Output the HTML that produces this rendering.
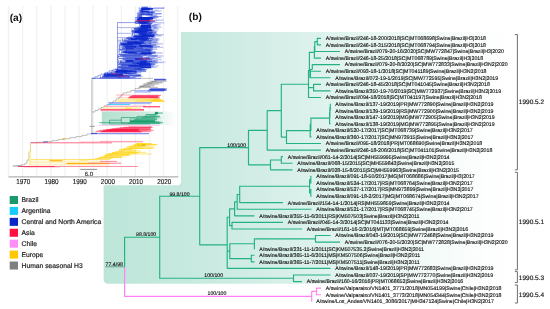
<!DOCTYPE html>
<html lang="en"><head><meta charset="utf-8"><title>Phylogeny figure</title>
<style>html,body{margin:0;padding:0;background:#fff}svg{display:block}</style></head>
<body>
<svg width="550" height="309" viewBox="0 0 550 309" font-family="Liberation Sans, sans-serif" text-rendering="geometricPrecision">
<defs>
<linearGradient id="gbox" gradientUnits="userSpaceOnUse" x1="103" y1="0" x2="515" y2="0">
<stop offset="0" stop-color="#bce5d8"/><stop offset="0.235" stop-color="#c8eae0"/><stop offset="0.333" stop-color="#cfece4"/><stop offset="0.5" stop-color="#dcf1eb"/><stop offset="0.8" stop-color="#f4fbf9"/><stop offset="0.93" stop-color="#fdfefe"/><stop offset="1" stop-color="#ffffff"/>
</linearGradient>
<linearGradient id="gsm" gradientUnits="userSpaceOnUse" x1="102" y1="0" x2="176" y2="0">
<stop offset="0" stop-color="#b4dfcf"/><stop offset="0.6" stop-color="#cdeadf"/><stop offset="1" stop-color="#ffffff"/>
</linearGradient>
<filter id="soft" x="-2%" y="-2%" width="104%" height="104%"><feGaussianBlur stdDeviation="0.2"/></filter>
</defs>
<rect width="550" height="309" fill="#fff"/>
<path d="M180.9,32 L520,32 L520,283.8 L108.6,283.8 Q103.6,283.8 103.6,278.8 L103.6,185.3 L177,185.3 Q180.9,185.3 180.9,181.4 L180.9,32 Z" fill="url(#gbox)"/>
<g stroke="#f2f2f2" stroke-width="1.3">
<line x1="8.5" y1="6" x2="8.5" y2="176.5"/>
<line x1="22.6" y1="6" x2="22.6" y2="176.5"/>
<line x1="36.7" y1="6" x2="36.7" y2="176.5"/>
<line x1="50.8" y1="6" x2="50.8" y2="176.5"/>
<line x1="64.9" y1="6" x2="64.9" y2="176.5"/>
<line x1="79.0" y1="6" x2="79.0" y2="176.5"/>
<line x1="93.1" y1="6" x2="93.1" y2="176.5"/>
<line x1="107.2" y1="6" x2="107.2" y2="176.5"/>
<line x1="121.3" y1="6" x2="121.3" y2="176.5"/>
<line x1="135.4" y1="6" x2="135.4" y2="176.5"/>
<line x1="149.5" y1="6" x2="149.5" y2="176.5"/>
<line x1="163.6" y1="6" x2="163.6" y2="176.5"/>
<line x1="177.7" y1="6" x2="177.7" y2="176.5"/>
</g>
<rect x="101.8" y="111.5" width="74" height="13.5" fill="url(#gsm)"/>
<g fill="none" stroke-linecap="butt">
<path d="M141.3,7.20H147.7" stroke="#0c28cc" stroke-width="0.62" opacity="0.99"/>
<path d="M141.4,7.80H148.0" stroke="#0c28cc" stroke-width="0.62" opacity="0.93"/>
<path d="M141.9,8.42H150.5" stroke="#0c28cc" stroke-width="0.62" opacity="0.93"/>
<path d="M139.6,8.97H150.7" stroke="#0c28cc" stroke-width="0.62" opacity="0.98"/>
<path d="M149.3,9.44H152.6" stroke="#0c28cc" stroke-width="0.62" opacity="0.97"/>
<path d="M139.1,10.71H143.3" stroke="#0c28cc" stroke-width="0.62" opacity="0.94"/>
<path d="M140.4,11.17H146.3" stroke="#0c28cc" stroke-width="0.62" opacity="0.99"/>
<path d="M141.2,11.80H147.0" stroke="#0c28cc" stroke-width="0.62" opacity="0.97"/>
<path d="M138.4,12.40H153.0" stroke="#0c28cc" stroke-width="0.62" opacity="1.00"/>
<path d="M140.6,13.12H144.8" stroke="#0c28cc" stroke-width="0.62" opacity="0.94"/>
<path d="M137.6,13.67H150.2" stroke="#0c28cc" stroke-width="0.62" opacity="0.95"/>
<path d="M138.5,14.40H152.5" stroke="#0c28cc" stroke-width="0.62" opacity="0.99"/>
<path d="M137.9,14.85H151.9" stroke="#0c28cc" stroke-width="0.62" opacity="0.96"/>
<path d="M138.4,15.62H141.9" stroke="#0c28cc" stroke-width="0.62" opacity="0.97"/>
<path d="M137.9,16.33H142.0" stroke="#0c28cc" stroke-width="0.62" opacity="0.95"/>
<path d="M139.2,17.10H142.4" stroke="#0c28cc" stroke-width="0.62" opacity="0.94"/>
<path d="M135.7,17.58H150.6" stroke="#0c28cc" stroke-width="0.62" opacity="0.93"/>
<path d="M136.9,18.21H143.3" stroke="#0c28cc" stroke-width="0.62" opacity="0.98"/>
<path d="M138.0,18.71H142.4" stroke="#0c28cc" stroke-width="0.62" opacity="0.95"/>
<path d="M136.1,19.23H152.7" stroke="#0c28cc" stroke-width="0.62" opacity="0.98"/>
<path d="M140.7,19.78H143.5" stroke="#0c28cc" stroke-width="0.62" opacity="0.95"/>
<path d="M137.7,20.51H142.2" stroke="#0c28cc" stroke-width="0.62" opacity="1.00"/>
<path d="M135.9,21.03H150.3" stroke="#0c28cc" stroke-width="0.62" opacity="0.95"/>
<path d="M135.2,21.58H142.1" stroke="#0c28cc" stroke-width="0.62" opacity="0.97"/>
<path d="M137.3,22.11H145.5" stroke="#0c28cc" stroke-width="0.62" opacity="0.96"/>
<path d="M136.7,22.88H147.9" stroke="#0c28cc" stroke-width="0.62" opacity="0.99"/>
<path d="M135.4,23.39H151.9" stroke="#0c28cc" stroke-width="0.62" opacity="0.99"/>
<path d="M141.2,23.92H149.9" stroke="#0c28cc" stroke-width="0.62" opacity="1.00"/>
<path d="M147.7,24.43H151.6" stroke="#0c28cc" stroke-width="0.62" opacity="0.97"/>
<path d="M139.7,25.79H149.5" stroke="#0c28cc" stroke-width="0.62" opacity="0.94"/>
<path d="M140.7,26.51H144.5" stroke="#0c28cc" stroke-width="0.62" opacity="0.93"/>
<path d="M137.4,27.20H143.7" stroke="#0c28cc" stroke-width="0.62" opacity="0.96"/>
<path d="M136.7,27.93H144.4" stroke="#0c28cc" stroke-width="0.62" opacity="0.99"/>
<path d="M133.7,28.45H144.2" stroke="#0c28cc" stroke-width="0.62" opacity="0.96"/>
<path d="M133.8,28.92H145.4" stroke="#0c28cc" stroke-width="0.62" opacity="0.97"/>
<path d="M134.0,29.41H151.7" stroke="#0c28cc" stroke-width="0.62" opacity="1.00"/>
<path d="M135.3,30.08H148.0" stroke="#0c28cc" stroke-width="0.62" opacity="0.93"/>
<path d="M132.0,30.54H151.9" stroke="#0c28cc" stroke-width="0.62" opacity="0.98"/>
<path d="M131.4,31.31H148.6" stroke="#0c28cc" stroke-width="0.62" opacity="0.96"/>
<path d="M131.8,32.00H153.0" stroke="#0c28cc" stroke-width="0.62" opacity="0.93"/>
<path d="M133.6,32.63H151.8" stroke="#0c28cc" stroke-width="0.62" opacity="0.98"/>
<path d="M136.5,33.31H152.0" stroke="#0c28cc" stroke-width="0.62" opacity="0.95"/>
<path d="M140.1,33.99H151.5" stroke="#0c28cc" stroke-width="0.62" opacity="0.95"/>
<path d="M138.0,34.70H147.9" stroke="#0c28cc" stroke-width="0.62" opacity="0.97"/>
<path d="M134.2,35.27H148.3" stroke="#0c28cc" stroke-width="0.62" opacity="0.93"/>
<path d="M143.4,35.94H151.6" stroke="#0c28cc" stroke-width="0.62" opacity="0.98"/>
<path d="M133.2,36.51H148.0" stroke="#0c28cc" stroke-width="0.62" opacity="0.96"/>
<path d="M128.3,37.24H150.0" stroke="#0c28cc" stroke-width="0.62" opacity="0.92"/>
<path d="M127.1,37.89H143.8" stroke="#0c28cc" stroke-width="0.62" opacity="0.98"/>
<path d="M126.4,38.50H152.0" stroke="#0c28cc" stroke-width="0.62" opacity="0.94"/>
<path d="M124.0,38.96H149.1" stroke="#0c28cc" stroke-width="0.62" opacity="0.94"/>
<path d="M128.0,39.46H148.9" stroke="#0c28cc" stroke-width="0.62" opacity="0.96"/>
<path d="M121.6,40.21H149.0" stroke="#0c28cc" stroke-width="0.62" opacity="0.94"/>
<path d="M124.1,40.80H152.0" stroke="#0c28cc" stroke-width="0.62" opacity="0.99"/>
<path d="M122.1,41.38H144.8" stroke="#0c28cc" stroke-width="0.62" opacity="0.93"/>
<path d="M124.4,41.99H151.2" stroke="#0c28cc" stroke-width="0.62" opacity="0.98"/>
<path d="M120.5,42.75H143.0" stroke="#0c28cc" stroke-width="0.62" opacity="0.96"/>
<path d="M120.3,43.29H146.0" stroke="#0c28cc" stroke-width="0.62" opacity="0.97"/>
<path d="M120.5,43.91H151.1" stroke="#0c28cc" stroke-width="0.62" opacity="1.00"/>
<path d="M119.7,44.51H141.4" stroke="#0c28cc" stroke-width="0.62" opacity="0.99"/>
<path d="M122.5,44.97H147.8" stroke="#0c28cc" stroke-width="0.62" opacity="0.94"/>
<path d="M119.4,45.68H142.6" stroke="#0c28cc" stroke-width="0.62" opacity="0.96"/>
<path d="M123.7,46.14H143.8" stroke="#0c28cc" stroke-width="0.62" opacity="0.93"/>
<path d="M121.7,46.60H146.4" stroke="#0c28cc" stroke-width="0.62" opacity="0.97"/>
<path d="M123.3,47.27H152.5" stroke="#0c28cc" stroke-width="0.62" opacity="0.97"/>
<path d="M120.7,47.79H143.1" stroke="#0c28cc" stroke-width="0.62" opacity="0.92"/>
<path d="M122.2,48.39H143.1" stroke="#0c28cc" stroke-width="0.62" opacity="0.94"/>
<path d="M121.9,48.96H147.2" stroke="#0c28cc" stroke-width="0.62" opacity="0.97"/>
<path d="M120.1,49.66H150.5" stroke="#0c28cc" stroke-width="0.62" opacity="0.99"/>
<path d="M125.5,50.13H149.7" stroke="#0c28cc" stroke-width="0.62" opacity="0.93"/>
<path d="M121.2,50.73H151.9" stroke="#0c28cc" stroke-width="0.62" opacity="0.95"/>
<path d="M123.9,51.37H150.6" stroke="#0c28cc" stroke-width="0.62" opacity="1.00"/>
<path d="M121.2,51.98H143.5" stroke="#0c28cc" stroke-width="0.62" opacity="0.98"/>
<path d="M121.1,52.70H149.6" stroke="#0c28cc" stroke-width="0.62" opacity="0.94"/>
<path d="M128.2,53.44H152.7" stroke="#0c28cc" stroke-width="0.62" opacity="0.96"/>
<path d="M119.3,54.15H151.9" stroke="#0c28cc" stroke-width="0.62" opacity="0.99"/>
<path d="M118.5,54.72H146.3" stroke="#0c28cc" stroke-width="0.62" opacity="0.96"/>
<path d="M119.9,55.42H141.3" stroke="#0c28cc" stroke-width="0.62" opacity="0.98"/>
<path d="M122.2,55.89H143.1" stroke="#0c28cc" stroke-width="0.62" opacity="0.95"/>
<path d="M118.5,56.60H142.8" stroke="#0c28cc" stroke-width="0.62" opacity="0.96"/>
<path d="M122.7,57.29H149.3" stroke="#0c28cc" stroke-width="0.62" opacity="1.00"/>
<path d="M125.5,57.90H142.0" stroke="#0c28cc" stroke-width="0.62" opacity="0.94"/>
<path d="M118.9,58.53H149.7" stroke="#0c28cc" stroke-width="0.62" opacity="0.97"/>
<path d="M122.6,59.15H147.7" stroke="#0c28cc" stroke-width="0.62" opacity="0.94"/>
<path d="M122.6,59.73H151.8" stroke="#0c28cc" stroke-width="0.62" opacity="0.94"/>
<path d="M126.6,60.46H147.3" stroke="#0c28cc" stroke-width="0.62" opacity="0.97"/>
<path d="M119.8,60.97H147.0" stroke="#0c28cc" stroke-width="0.62" opacity="0.97"/>
<path d="M126.6,61.43H147.2" stroke="#0c28cc" stroke-width="0.62" opacity="0.95"/>
<path d="M119.9,62.15H146.9" stroke="#0c28cc" stroke-width="0.62" opacity="0.98"/>
<path d="M119.8,62.62H146.0" stroke="#0c28cc" stroke-width="0.62" opacity="1.00"/>
<path d="M118.6,63.37H146.7" stroke="#0c28cc" stroke-width="0.62" opacity="0.93"/>
<path d="M122.0,63.97H151.8" stroke="#0c28cc" stroke-width="0.62" opacity="0.96"/>
<path d="M118.3,64.52H148.4" stroke="#0c28cc" stroke-width="0.62" opacity="0.99"/>
<path d="M121.5,65.01H141.3" stroke="#0c28cc" stroke-width="0.62" opacity="0.94"/>
<path d="M120.6,65.54H144.9" stroke="#0c28cc" stroke-width="0.62" opacity="0.95"/>
<path d="M118.0,66.19H149.8" stroke="#0c28cc" stroke-width="0.62" opacity="0.93"/>
<path d="M118.4,66.81H143.4" stroke="#0c28cc" stroke-width="0.62" opacity="0.96"/>
<path d="M118.8,67.41H146.0" stroke="#0c28cc" stroke-width="0.62" opacity="0.96"/>
<path d="M118.2,67.91H148.6" stroke="#0c28cc" stroke-width="0.62" opacity="0.97"/>
<path d="M121.4,68.53H141.0" stroke="#0c28cc" stroke-width="0.62" opacity="0.99"/>
<path d="M119.1,69.06H144.6" stroke="#0c28cc" stroke-width="0.62" opacity="0.99"/>
<path d="M115.6,69.61H146.6" stroke="#0c28cc" stroke-width="0.62" opacity="0.94"/>
<path d="M118.7,70.39H132.4" stroke="#0c28cc" stroke-width="0.62" opacity="0.94"/>
<path d="M112.6,71.08H131.7" stroke="#0c28cc" stroke-width="0.62" opacity="0.99"/>
<path d="M114.6,71.67H132.3" stroke="#0c28cc" stroke-width="0.62" opacity="0.95"/>
<path d="M109.2,72.35H124.2" stroke="#0c28cc" stroke-width="0.62" opacity="0.97"/>
<path d="M115.9,73.10H122.4" stroke="#0c28cc" stroke-width="0.62" opacity="0.96"/>
<path d="M107.2,73.80H134.4" stroke="#0c28cc" stroke-width="0.62" opacity="0.94"/>
<path d="M104.9,74.27H120.8" stroke="#0c28cc" stroke-width="0.62" opacity="0.96"/>
<path d="M105.8,74.89H123.1" stroke="#0c28cc" stroke-width="0.62" opacity="0.93"/>
<path d="M107.5,75.41H140.8" stroke="#0c28cc" stroke-width="0.62" opacity="0.99"/>
<path d="M102.3,75.89H140.0" stroke="#0c28cc" stroke-width="0.62" opacity="0.96"/>
<path d="M102.1,76.59H129.8" stroke="#0c28cc" stroke-width="0.62" opacity="0.96"/>
<path d="M102.5,77.19H120.3" stroke="#0c28cc" stroke-width="0.62" opacity="0.98"/>
<path d="M99.6,77.91H129.5" stroke="#0c28cc" stroke-width="0.62" opacity="0.98"/>
<path d="M143.7,7.30H151.6" stroke="#0c28cc" stroke-width="0.45" opacity="0.63"/>
<path d="M153.3,7.86H164.5" stroke="#0c28cc" stroke-width="0.45" opacity="0.78"/>
<path d="M151.3,8.46H164.2" stroke="#0c28cc" stroke-width="0.45" opacity="0.66"/>
<path d="M140.3,9.04H152.6" stroke="#0c28cc" stroke-width="0.45" opacity="0.87"/>
<path d="M145.4,9.49H150.6" stroke="#0c28cc" stroke-width="0.45" opacity="0.91"/>
<path d="M150.9,10.09H158.5" stroke="#0c28cc" stroke-width="0.45" opacity="0.68"/>
<path d="M140.0,10.54H150.6" stroke="#0c28cc" stroke-width="0.45" opacity="0.85"/>
<path d="M154.7,11.08H161.5" stroke="#0c28cc" stroke-width="0.45" opacity="0.76"/>
<path d="M148.2,11.56H155.2" stroke="#0c28cc" stroke-width="0.45" opacity="0.92"/>
<path d="M142.4,12.04H154.1" stroke="#0c28cc" stroke-width="0.45" opacity="0.88"/>
<path d="M146.1,12.41H154.8" stroke="#0c28cc" stroke-width="0.45" opacity="0.94"/>
<path d="M145.7,12.98H154.8" stroke="#0c28cc" stroke-width="0.45" opacity="0.78"/>
<path d="M146.7,13.48H161.9" stroke="#0c28cc" stroke-width="0.45" opacity="0.83"/>
<path d="M155.4,14.01H161.3" stroke="#0c28cc" stroke-width="0.45" opacity="0.86"/>
<path d="M141.1,14.46H156.5" stroke="#0c28cc" stroke-width="0.45" opacity="0.63"/>
<path d="M148.9,15.04H153.4" stroke="#0c28cc" stroke-width="0.45" opacity="0.63"/>
<path d="M146.0,15.59H157.3" stroke="#0c28cc" stroke-width="0.45" opacity="0.64"/>
<path d="M150.6,16.10H156.5" stroke="#0c28cc" stroke-width="0.45" opacity="0.73"/>
<path d="M152.7,16.48H161.8" stroke="#0c28cc" stroke-width="0.45" opacity="0.87"/>
<path d="M148.2,16.96H158.0" stroke="#0c28cc" stroke-width="0.45" opacity="0.78"/>
<path d="M146.3,17.39H158.5" stroke="#0c28cc" stroke-width="0.45" opacity="0.80"/>
<path d="M145.0,17.89H155.1" stroke="#0c28cc" stroke-width="0.45" opacity="0.83"/>
<path d="M145.9,18.29H155.0" stroke="#0c28cc" stroke-width="0.45" opacity="0.82"/>
<path d="M150.8,18.66H156.8" stroke="#0c28cc" stroke-width="0.45" opacity="0.68"/>
<path d="M139.9,19.26H152.8" stroke="#0c28cc" stroke-width="0.45" opacity="0.89"/>
<path d="M141.6,19.63H151.0" stroke="#0c28cc" stroke-width="0.45" opacity="0.86"/>
<path d="M155.6,20.08H163.5" stroke="#0c28cc" stroke-width="0.45" opacity="0.79"/>
<path d="M147.8,20.61H157.4" stroke="#0c28cc" stroke-width="0.45" opacity="0.71"/>
<path d="M147.0,21.10H154.5" stroke="#0c28cc" stroke-width="0.45" opacity="0.87"/>
<path d="M145.4,21.47H155.3" stroke="#0c28cc" stroke-width="0.45" opacity="0.87"/>
<path d="M143.4,21.90H151.8" stroke="#0c28cc" stroke-width="0.45" opacity="0.64"/>
<path d="M148.1,22.43H157.3" stroke="#0c28cc" stroke-width="0.45" opacity="0.88"/>
<path d="M157.4,22.85H164.4" stroke="#0c28cc" stroke-width="0.45" opacity="0.73"/>
<path d="M140.0,23.29H152.9" stroke="#0c28cc" stroke-width="0.45" opacity="0.73"/>
<path d="M141.8,23.74H151.2" stroke="#0c28cc" stroke-width="0.45" opacity="0.91"/>
<path d="M153.3,24.16H160.9" stroke="#0c28cc" stroke-width="0.45" opacity="0.61"/>
<path d="M153.7,24.72H158.7" stroke="#0c28cc" stroke-width="0.45" opacity="0.63"/>
<path d="M152.0,25.26H157.2" stroke="#0c28cc" stroke-width="0.45" opacity="0.89"/>
<path d="M140.7,25.71H153.9" stroke="#0c28cc" stroke-width="0.45" opacity="0.74"/>
<path d="M146.8,26.15H160.4" stroke="#0c28cc" stroke-width="0.45" opacity="0.63"/>
<path d="M141.8,26.65H156.1" stroke="#0c28cc" stroke-width="0.45" opacity="0.88"/>
<path d="M153.4,27.21H161.8" stroke="#0c28cc" stroke-width="0.45" opacity="0.60"/>
<path d="M141.5,27.59H157.4" stroke="#0c28cc" stroke-width="0.45" opacity="0.73"/>
<path d="M142.0,27.98H151.6" stroke="#0c28cc" stroke-width="0.45" opacity="0.86"/>
<path d="M153.2,28.40H157.4" stroke="#0c28cc" stroke-width="0.45" opacity="0.77"/>
<path d="M152.4,28.95H159.2" stroke="#0c28cc" stroke-width="0.45" opacity="0.85"/>
<path d="M136.9,29.45H151.8" stroke="#0c28cc" stroke-width="0.45" opacity="0.93"/>
<path d="M139.8,29.96H154.4" stroke="#0c28cc" stroke-width="0.45" opacity="0.92"/>
<path d="M145.6,30.40H154.4" stroke="#0c28cc" stroke-width="0.45" opacity="0.68"/>
<path d="M144.4,30.78H157.8" stroke="#0c28cc" stroke-width="0.45" opacity="0.62"/>
<path d="M143.4,31.36H157.0" stroke="#0c28cc" stroke-width="0.45" opacity="0.85"/>
<path d="M136.4,31.86H151.3" stroke="#0c28cc" stroke-width="0.45" opacity="0.88"/>
<path d="M150.1,32.24H155.9" stroke="#0c28cc" stroke-width="0.45" opacity="0.87"/>
<path d="M148.4,32.59H156.6" stroke="#0c28cc" stroke-width="0.45" opacity="0.82"/>
<path d="M145.7,33.08H156.7" stroke="#0c28cc" stroke-width="0.45" opacity="0.90"/>
<path d="M142.9,33.50H156.3" stroke="#0c28cc" stroke-width="0.45" opacity="0.75"/>
<path d="M146.2,33.86H154.0" stroke="#0c28cc" stroke-width="0.45" opacity="0.74"/>
<path d="M145.7,34.35H158.0" stroke="#0c28cc" stroke-width="0.45" opacity="0.64"/>
<path d="M154.1,34.80H163.5" stroke="#0c28cc" stroke-width="0.45" opacity="0.90"/>
<path d="M139.5,35.33H153.8" stroke="#0c28cc" stroke-width="0.45" opacity="0.90"/>
<path d="M148.7,35.86H161.6" stroke="#0c28cc" stroke-width="0.45" opacity="0.93"/>
<path d="M137.9,36.40H150.7" stroke="#0c28cc" stroke-width="0.45" opacity="0.72"/>
<path d="M150.7,36.98H155.8" stroke="#0c28cc" stroke-width="0.45" opacity="0.65"/>
<path d="M151.2,37.36H155.7" stroke="#0c28cc" stroke-width="0.45" opacity="0.76"/>
<path d="M141.4,37.88H150.3" stroke="#0c28cc" stroke-width="0.45" opacity="0.63"/>
<path d="M139.6,38.46H153.4" stroke="#0c28cc" stroke-width="0.45" opacity="0.74"/>
<path d="M151.8,38.89H159.6" stroke="#0c28cc" stroke-width="0.45" opacity="0.88"/>
<path d="M149.8,39.31H157.9" stroke="#0c28cc" stroke-width="0.45" opacity="0.83"/>
<path d="M141.7,39.68H153.0" stroke="#0c28cc" stroke-width="0.45" opacity="0.66"/>
<path d="M149.0,40.22H159.2" stroke="#0c28cc" stroke-width="0.45" opacity="0.80"/>
<path d="M146.7,40.62H157.5" stroke="#0c28cc" stroke-width="0.45" opacity="0.61"/>
<path d="M138.7,41.14H151.1" stroke="#0c28cc" stroke-width="0.45" opacity="0.72"/>
<path d="M151.5,41.72H157.1" stroke="#0c28cc" stroke-width="0.45" opacity="0.92"/>
<path d="M142.5,42.21H158.4" stroke="#0c28cc" stroke-width="0.45" opacity="0.89"/>
<path d="M149.7,42.71H156.6" stroke="#0c28cc" stroke-width="0.45" opacity="0.80"/>
<path d="M142.6,43.26H151.5" stroke="#0c28cc" stroke-width="0.45" opacity="0.87"/>
<path d="M147.9,43.85H162.8" stroke="#0c28cc" stroke-width="0.45" opacity="0.82"/>
<path d="M150.4,44.36H156.1" stroke="#0c28cc" stroke-width="0.45" opacity="0.74"/>
<path d="M143.2,44.85H158.4" stroke="#0c28cc" stroke-width="0.45" opacity="0.62"/>
<path d="M145.1,45.40H156.3" stroke="#0c28cc" stroke-width="0.45" opacity="0.76"/>
<path d="M145.7,45.85H155.5" stroke="#0c28cc" stroke-width="0.45" opacity="0.95"/>
<path d="M154.5,46.41H159.9" stroke="#0c28cc" stroke-width="0.45" opacity="0.93"/>
<path d="M146.6,46.84H154.2" stroke="#0c28cc" stroke-width="0.45" opacity="0.82"/>
<path d="M148.6,47.30H163.1" stroke="#0c28cc" stroke-width="0.45" opacity="0.69"/>
<path d="M144.6,47.86H157.0" stroke="#0c28cc" stroke-width="0.45" opacity="0.78"/>
<path d="M136.5,48.27H152.5" stroke="#0c28cc" stroke-width="0.45" opacity="0.86"/>
<path d="M146.3,48.84H153.0" stroke="#0c28cc" stroke-width="0.45" opacity="0.86"/>
<path d="M142.6,49.33H157.2" stroke="#0c28cc" stroke-width="0.45" opacity="0.80"/>
<path d="M147.6,49.79H152.4" stroke="#0c28cc" stroke-width="0.45" opacity="0.91"/>
<path d="M145.5,50.35H153.2" stroke="#0c28cc" stroke-width="0.45" opacity="0.76"/>
<path d="M136.6,50.77H151.1" stroke="#0c28cc" stroke-width="0.45" opacity="0.67"/>
<path d="M135.7,51.34H150.5" stroke="#0c28cc" stroke-width="0.45" opacity="0.61"/>
<path d="M149.3,51.85H155.6" stroke="#0c28cc" stroke-width="0.45" opacity="0.91"/>
<path d="M141.4,52.21H155.8" stroke="#0c28cc" stroke-width="0.45" opacity="0.85"/>
<path d="M149.5,52.59H155.6" stroke="#0c28cc" stroke-width="0.45" opacity="0.90"/>
<path d="M150.5,52.97H162.5" stroke="#0c28cc" stroke-width="0.45" opacity="0.88"/>
<path d="M139.6,53.42H155.3" stroke="#0c28cc" stroke-width="0.45" opacity="0.91"/>
<path d="M135.3,53.81H151.1" stroke="#0c28cc" stroke-width="0.45" opacity="0.75"/>
<path d="M139.9,54.30H150.4" stroke="#0c28cc" stroke-width="0.45" opacity="0.75"/>
<path d="M144.0,54.79H151.3" stroke="#0c28cc" stroke-width="0.45" opacity="0.79"/>
<path d="M142.9,55.18H157.9" stroke="#0c28cc" stroke-width="0.45" opacity="0.80"/>
<path d="M141.7,55.53H156.6" stroke="#0c28cc" stroke-width="0.45" opacity="0.71"/>
<path d="M151.2,56.01H163.4" stroke="#0c28cc" stroke-width="0.45" opacity="0.78"/>
<path d="M148.3,56.59H157.5" stroke="#0c28cc" stroke-width="0.45" opacity="0.83"/>
<path d="M145.9,57.08H155.7" stroke="#0c28cc" stroke-width="0.45" opacity="0.68"/>
<path d="M156.7,57.58H161.4" stroke="#0c28cc" stroke-width="0.45" opacity="0.76"/>
<path d="M144.8,58.15H154.9" stroke="#0c28cc" stroke-width="0.45" opacity="0.85"/>
<path d="M147.1,58.71H157.6" stroke="#0c28cc" stroke-width="0.45" opacity="0.88"/>
<path d="M138.7,59.12H152.5" stroke="#0c28cc" stroke-width="0.45" opacity="0.86"/>
<path d="M155.8,59.66H161.9" stroke="#0c28cc" stroke-width="0.45" opacity="0.69"/>
<path d="M147.7,60.05H155.5" stroke="#0c28cc" stroke-width="0.45" opacity="0.76"/>
<path d="M141.3,60.58H157.2" stroke="#0c28cc" stroke-width="0.45" opacity="0.65"/>
<path d="M152.5,61.04H158.2" stroke="#0c28cc" stroke-width="0.45" opacity="0.74"/>
<path d="M143.1,61.47H156.3" stroke="#0c28cc" stroke-width="0.45" opacity="0.86"/>
<path d="M149.4,61.87H154.4" stroke="#0c28cc" stroke-width="0.45" opacity="0.68"/>
<path d="M148.7,62.30H157.6" stroke="#0c28cc" stroke-width="0.45" opacity="0.83"/>
<path d="M148.7,62.67H163.8" stroke="#0c28cc" stroke-width="0.45" opacity="0.66"/>
<path d="M150.9,63.23H157.5" stroke="#0c28cc" stroke-width="0.45" opacity="0.72"/>
<path d="M143.3,63.63H154.4" stroke="#0c28cc" stroke-width="0.45" opacity="0.87"/>
<path d="M148.6,64.10H155.0" stroke="#0c28cc" stroke-width="0.45" opacity="0.73"/>
<path d="M145.3,64.46H155.5" stroke="#0c28cc" stroke-width="0.45" opacity="0.86"/>
<path d="M146.2,64.94H154.5" stroke="#0c28cc" stroke-width="0.45" opacity="0.65"/>
<path d="M148.6,65.53H152.9" stroke="#0c28cc" stroke-width="0.45" opacity="0.71"/>
<path d="M146.9,65.97H158.9" stroke="#0c28cc" stroke-width="0.45" opacity="0.71"/>
<path d="M149.5,66.47H153.9" stroke="#0c28cc" stroke-width="0.45" opacity="0.71"/>
<path d="M143.3,66.93H151.1" stroke="#0c28cc" stroke-width="0.45" opacity="0.76"/>
<path d="M147.8,67.37H156.7" stroke="#0c28cc" stroke-width="0.45" opacity="0.74"/>
<path d="M146.1,67.94H151.8" stroke="#0c28cc" stroke-width="0.45" opacity="0.90"/>
<path d="M136.6,68.48H141.7" stroke="#0c28cc" stroke-width="0.45" opacity="0.87"/>
<path d="M138.7,69.01H144.6" stroke="#0c28cc" stroke-width="0.45" opacity="0.90"/>
<path d="M133.1,69.50H139.7" stroke="#0c28cc" stroke-width="0.45" opacity="0.87"/>
<path d="M138.2,69.95H146.5" stroke="#0c28cc" stroke-width="0.45" opacity="0.88"/>
<path d="M130.5,70.33H141.9" stroke="#0c28cc" stroke-width="0.45" opacity="0.93"/>
<path d="M137.4,70.75H145.3" stroke="#0c28cc" stroke-width="0.45" opacity="0.92"/>
<path d="M136.7,71.15H146.3" stroke="#0c28cc" stroke-width="0.45" opacity="0.85"/>
<path d="M129.1,71.63H145.9" stroke="#0c28cc" stroke-width="0.45" opacity="0.88"/>
<path d="M114.3,72.10H130.4" stroke="#0c28cc" stroke-width="0.45" opacity="0.71"/>
<path d="M134.8,72.68H141.3" stroke="#0c28cc" stroke-width="0.45" opacity="0.92"/>
<path d="M120.7,73.25H130.6" stroke="#0c28cc" stroke-width="0.45" opacity="0.90"/>
<path d="M121.7,73.68H138.2" stroke="#0c28cc" stroke-width="0.45" opacity="0.63"/>
<path d="M121.6,74.04H131.5" stroke="#0c28cc" stroke-width="0.45" opacity="0.70"/>
<path d="M127.7,74.59H141.1" stroke="#0c28cc" stroke-width="0.45" opacity="0.73"/>
<path d="M135.9,75.03H141.3" stroke="#0c28cc" stroke-width="0.45" opacity="0.85"/>
<path d="M121.7,75.43H127.3" stroke="#0c28cc" stroke-width="0.45" opacity="0.79"/>
<path d="M121.2,75.93H127.1" stroke="#0c28cc" stroke-width="0.45" opacity="0.76"/>
<path d="M132.4,76.40H142.4" stroke="#0c28cc" stroke-width="0.45" opacity="0.88"/>
<path d="M119.2,76.92H130.6" stroke="#0c28cc" stroke-width="0.45" opacity="0.77"/>
<path d="M127.8,77.27H136.3" stroke="#0c28cc" stroke-width="0.45" opacity="0.69"/>
<path d="M117.8,77.68H134.9" stroke="#0c28cc" stroke-width="0.45" opacity="0.94"/>
<rect x="138.8" y="44.97" width="12.1" height="1.00" fill="#0c28cc" stroke="none" opacity="0.92"/>
<rect x="139.4" y="63.91" width="11.5" height="1.94" fill="#0c28cc" stroke="none" opacity="0.92"/>
<rect x="140.8" y="25.59" width="6.2" height="1.95" fill="#0c28cc" stroke="none" opacity="0.92"/>
<rect x="138.7" y="21.75" width="7.3" height="1.15" fill="#0c28cc" stroke="none" opacity="0.92"/>
<rect x="138.6" y="18.53" width="11.5" height="1.95" fill="#0c28cc" stroke="none" opacity="0.92"/>
<rect x="139.1" y="27.62" width="8.9" height="1.77" fill="#0c28cc" stroke="none" opacity="0.92"/>
<rect x="134.7" y="41.64" width="8.9" height="1.82" fill="#0c28cc" stroke="none" opacity="0.92"/>
<rect x="123.8" y="70.34" width="13.0" height="2.19" fill="#0c28cc" stroke="none" opacity="0.92"/>
<rect x="139.4" y="63.52" width="8.5" height="2.00" fill="#0c28cc" stroke="none" opacity="0.92"/>
<rect x="135.3" y="42.60" width="6.3" height="1.71" fill="#0c28cc" stroke="none" opacity="0.92"/>
<rect x="137.2" y="35.77" width="8.8" height="1.42" fill="#0c28cc" stroke="none" opacity="0.92"/>
<rect x="135.1" y="58.15" width="8.0" height="1.73" fill="#0c28cc" stroke="none" opacity="0.92"/>
<rect x="138.7" y="32.69" width="7.5" height="2.01" fill="#0c28cc" stroke="none" opacity="0.92"/>
<rect x="139.6" y="21.53" width="7.0" height="2.18" fill="#0c28cc" stroke="none" opacity="0.92"/>
<rect x="122.9" y="51.43" width="11.9" height="1.25" fill="#0c28cc" stroke="none" opacity="0.92"/>
<rect x="137.9" y="18.52" width="11.0" height="1.28" fill="#0c28cc" stroke="none" opacity="0.92"/>
<rect x="141.4" y="52.16" width="9.8" height="1.80" fill="#0c28cc" stroke="none" opacity="0.92"/>
<rect x="140.4" y="61.67" width="8.1" height="1.25" fill="#0c28cc" stroke="none" opacity="0.92"/>
<rect x="141.8" y="24.76" width="9.1" height="1.78" fill="#0c28cc" stroke="none" opacity="0.92"/>
<rect x="139.0" y="17.01" width="14.0" height="2.03" fill="#0c28cc" stroke="none" opacity="0.92"/>
<rect x="138.6" y="20.78" width="10.3" height="1.94" fill="#0c28cc" stroke="none" opacity="0.92"/>
<rect x="141.2" y="35.21" width="12.7" height="2.01" fill="#0c28cc" stroke="none" opacity="0.92"/>
<rect x="137.2" y="19.23" width="9.5" height="2.03" fill="#0c28cc" stroke="none" opacity="0.92"/>
<rect x="125.0" y="52.00" width="11.8" height="1.43" fill="#0c28cc" stroke="none" opacity="0.92"/>
<rect x="139.9" y="17.23" width="11.4" height="1.18" fill="#0c28cc" stroke="none" opacity="0.92"/>
<rect x="141.7" y="26.86" width="9.5" height="1.98" fill="#0c28cc" stroke="none" opacity="0.92"/>
<rect x="139.8" y="45.60" width="13.0" height="1.46" fill="#0c28cc" stroke="none" opacity="0.92"/>
<rect x="141.4" y="17.90" width="8.2" height="1.64" fill="#0c28cc" stroke="none" opacity="0.92"/>
<rect x="140.9" y="26.25" width="8.6" height="1.01" fill="#0c28cc" stroke="none" opacity="0.92"/>
<rect x="139.6" y="21.28" width="10.5" height="1.10" fill="#0c28cc" stroke="none" opacity="0.92"/>
<rect x="141.8" y="7.99" width="11.4" height="0.91" fill="#0c28cc" stroke="none" opacity="0.92"/>
<rect x="134.7" y="30.54" width="12.3" height="2.19" fill="#0c28cc" stroke="none" opacity="0.92"/>
<rect x="133.5" y="35.49" width="8.8" height="1.63" fill="#0c28cc" stroke="none" opacity="0.92"/>
<rect x="125.4" y="45.68" width="10.9" height="1.98" fill="#0c28cc" stroke="none" opacity="0.92"/>
<rect x="141.5" y="24.79" width="8.3" height="1.22" fill="#0c28cc" stroke="none" opacity="0.92"/>
<rect x="132.3" y="62.65" width="13.5" height="0.96" fill="#0c28cc" stroke="none" opacity="0.92"/>
<rect x="140.7" y="66.22" width="10.3" height="1.78" fill="#0c28cc" stroke="none" opacity="0.92"/>
<rect x="140.3" y="26.07" width="10.4" height="0.98" fill="#0c28cc" stroke="none" opacity="0.92"/>
<rect x="139.9" y="39.41" width="6.5" height="1.37" fill="#0c28cc" stroke="none" opacity="0.92"/>
<rect x="125.4" y="60.03" width="8.0" height="2.10" fill="#0c28cc" stroke="none" opacity="0.92"/>
<rect x="127.7" y="41.41" width="10.3" height="1.77" fill="#0c28cc" stroke="none" opacity="0.92"/>
<rect x="136.7" y="62.48" width="13.5" height="1.53" fill="#0c28cc" stroke="none" opacity="0.92"/>
<rect x="128.5" y="65.03" width="13.2" height="1.71" fill="#0c28cc" stroke="none" opacity="0.92"/>
<rect x="141.2" y="8.15" width="8.6" height="1.84" fill="#0c28cc" stroke="none" opacity="0.92"/>
<rect x="127.0" y="42.17" width="13.9" height="1.71" fill="#0c28cc" stroke="none" opacity="0.92"/>
<rect x="130.9" y="38.31" width="6.5" height="1.75" fill="#0c28cc" stroke="none" opacity="0.92"/>
<rect x="126.2" y="48.20" width="7.7" height="1.13" fill="#0c28cc" stroke="none" opacity="0.92"/>
<rect x="140.6" y="10.71" width="8.4" height="1.17" fill="#0c28cc" stroke="none" opacity="0.92"/>
<rect x="134.3" y="31.30" width="9.0" height="1.14" fill="#0c28cc" stroke="none" opacity="0.92"/>
<rect x="141.3" y="9.01" width="6.4" height="1.02" fill="#0c28cc" stroke="none" opacity="0.92"/>
<rect x="124.3" y="72.62" width="12.1" height="0.93" fill="#0c28cc" stroke="none" opacity="0.92"/>
<rect x="137.2" y="19.46" width="10.7" height="1.65" fill="#0c28cc" stroke="none" opacity="0.92"/>
<rect x="137.9" y="29.52" width="13.5" height="1.55" fill="#0c28cc" stroke="none" opacity="0.92"/>
<rect x="139.5" y="60.96" width="12.5" height="0.99" fill="#0c28cc" stroke="none" opacity="0.92"/>
<rect x="141.5" y="34.22" width="13.1" height="1.91" fill="#0c28cc" stroke="none" opacity="0.92"/>
<rect x="121.3" y="43.47" width="11.8" height="1.76" fill="#0c28cc" stroke="none" opacity="0.92"/>
<rect x="116.3" y="69.91" width="10.9" height="1.35" fill="#0c28cc" stroke="none" opacity="0.92"/>
<rect x="138.0" y="37.60" width="9.4" height="2.16" fill="#0c28cc" stroke="none" opacity="0.92"/>
<rect x="115.4" y="70.85" width="11.9" height="1.87" fill="#0c28cc" stroke="none" opacity="0.92"/>
<rect x="135.1" y="37.38" width="12.7" height="1.55" fill="#0c28cc" stroke="none" opacity="0.92"/>
<path d="M134.8,32.84V34.18" stroke="#0c28cc" stroke-width="0.45" opacity="0.92"/>
<path d="M123.3,43.15V45.29" stroke="#0c28cc" stroke-width="0.45" opacity="0.62"/>
<path d="M141.2,11.19V14.16" stroke="#0c28cc" stroke-width="0.45" opacity="0.71"/>
<path d="M145.8,24.78V26.60" stroke="#0c28cc" stroke-width="0.45" opacity="0.76"/>
<path d="M119.8,44.74V49.13" stroke="#0c28cc" stroke-width="0.45" opacity="0.86"/>
<path d="M118.2,68.07V69.89" stroke="#0c28cc" stroke-width="0.45" opacity="0.92"/>
<path d="M118.9,60.82V62.40" stroke="#0c28cc" stroke-width="0.45" opacity="0.64"/>
<path d="M142.0,24.49V26.31" stroke="#0c28cc" stroke-width="0.45" opacity="0.61"/>
<path d="M136.3,30.61V32.96" stroke="#0c28cc" stroke-width="0.45" opacity="0.67"/>
<path d="M142.8,8.47V11.28" stroke="#0c28cc" stroke-width="0.45" opacity="0.94"/>
<path d="M141.6,23.60V26.25" stroke="#0c28cc" stroke-width="0.45" opacity="0.86"/>
<path d="M118.1,66.68V69.52" stroke="#0c28cc" stroke-width="0.45" opacity="0.62"/>
<path d="M139.3,66.22V67.64" stroke="#0c28cc" stroke-width="0.45" opacity="0.93"/>
<path d="M119.0,62.29V64.59" stroke="#0c28cc" stroke-width="0.45" opacity="0.93"/>
<path d="M111.5,71.98V74.13" stroke="#0c28cc" stroke-width="0.45" opacity="0.75"/>
<path d="M119.1,48.97V52.42" stroke="#0c28cc" stroke-width="0.45" opacity="0.76"/>
<path d="M120.6,40.52V43.86" stroke="#0c28cc" stroke-width="0.45" opacity="0.79"/>
<path d="M152.0,28.86V33.26" stroke="#0c28cc" stroke-width="0.45" opacity="0.80"/>
<path d="M106.9,74.62V78.00" stroke="#0c28cc" stroke-width="0.45" opacity="0.84"/>
<path d="M135.3,64.51V67.89" stroke="#0c28cc" stroke-width="0.45" opacity="0.67"/>
<path d="M143.8,21.65V23.41" stroke="#0c28cc" stroke-width="0.45" opacity="0.80"/>
<path d="M141.0,10.29V12.34" stroke="#0c28cc" stroke-width="0.45" opacity="0.72"/>
<path d="M121.1,49.54V50.77" stroke="#0c28cc" stroke-width="0.45" opacity="0.62"/>
<path d="M142.7,21.38V25.45" stroke="#0c28cc" stroke-width="0.45" opacity="0.87"/>
<path d="M135.6,21.01V23.09" stroke="#0c28cc" stroke-width="0.45" opacity="0.73"/>
<path d="M120.9,48.86V50.50" stroke="#0c28cc" stroke-width="0.45" opacity="0.64"/>
<path d="M141.7,13.92V16.50" stroke="#0c28cc" stroke-width="0.45" opacity="0.77"/>
<path d="M138.0,15.44V19.53" stroke="#0c28cc" stroke-width="0.45" opacity="0.93"/>
<path d="M143.8,12.78V14.72" stroke="#0c28cc" stroke-width="0.45" opacity="0.77"/>
<path d="M138.3,20.91V22.84" stroke="#0c28cc" stroke-width="0.45" opacity="0.82"/>
<path d="M133.0,32.28V35.40" stroke="#0c28cc" stroke-width="0.45" opacity="0.83"/>
<path d="M145.7,25.57V26.81" stroke="#0c28cc" stroke-width="0.45" opacity="0.81"/>
<path d="M142.3,8.52V11.68" stroke="#0c28cc" stroke-width="0.45" opacity="0.90"/>
<path d="M136.8,33.70V35.23" stroke="#0c28cc" stroke-width="0.45" opacity="0.91"/>
<path d="M118.7,59.41V62.78" stroke="#0c28cc" stroke-width="0.45" opacity="0.76"/>
<path d="M144.4,21.62V22.88" stroke="#0c28cc" stroke-width="0.45" opacity="0.61"/>
<path d="M126.3,47.34V51.81" stroke="#0c28cc" stroke-width="0.45" opacity="0.89"/>
<path d="M124.3,66.44V68.15" stroke="#0c28cc" stroke-width="0.45" opacity="0.63"/>
<path d="M139.6,19.00V21.79" stroke="#0c28cc" stroke-width="0.45" opacity="0.83"/>
<path d="M140.2,11.61V12.88" stroke="#0c28cc" stroke-width="0.45" opacity="0.88"/>
<path d="M131.0,36.75V39.74" stroke="#0c28cc" stroke-width="0.45" opacity="0.64"/>
<path d="M152.0,11.38V14.75" stroke="#0c28cc" stroke-width="0.45" opacity="0.88"/>
<path d="M117.5,70.41V73.54" stroke="#0c28cc" stroke-width="0.45" opacity="0.77"/>
<path d="M122.2,63.55V65.07" stroke="#0c28cc" stroke-width="0.45" opacity="0.88"/>
<path d="M152.0,7.74V11.24" stroke="#0c28cc" stroke-width="0.45" opacity="0.88"/>
<path d="M122.9,68.66V73.06" stroke="#0c28cc" stroke-width="0.45" opacity="0.77"/>
<path d="M121.0,67.17V68.89" stroke="#0c28cc" stroke-width="0.45" opacity="0.73"/>
<path d="M141.3,32.22V36.33" stroke="#0c28cc" stroke-width="0.45" opacity="0.64"/>
<path d="M136.8,35.37V39.79" stroke="#0c28cc" stroke-width="0.45" opacity="0.87"/>
<path d="M152.0,13.86V16.92" stroke="#0c28cc" stroke-width="0.45" opacity="0.62"/>
<path d="M147.5,23.56V26.44" stroke="#0c28cc" stroke-width="0.45" opacity="0.71"/>
<path d="M133.0,31.31V34.46" stroke="#0c28cc" stroke-width="0.45" opacity="0.76"/>
<path d="M109.9,74.31V76.07" stroke="#0c28cc" stroke-width="0.45" opacity="0.64"/>
<path d="M150.8,16.79V20.66" stroke="#0c28cc" stroke-width="0.45" opacity="0.78"/>
<path d="M140.6,17.22V18.99" stroke="#0c28cc" stroke-width="0.45" opacity="0.82"/>
<path d="M116.2,72.53V74.12" stroke="#0c28cc" stroke-width="0.45" opacity="0.89"/>
<path d="M144.6,22.95V24.51" stroke="#0c28cc" stroke-width="0.45" opacity="0.86"/>
<path d="M132.2,32.92V36.16" stroke="#0c28cc" stroke-width="0.45" opacity="0.74"/>
<path d="M134.6,40.81V43.80" stroke="#0c28cc" stroke-width="0.45" opacity="0.87"/>
<path d="M120.9,59.85V62.04" stroke="#0c28cc" stroke-width="0.45" opacity="0.68"/>
<path d="M126.0,43.73V46.31" stroke="#0c28cc" stroke-width="0.45" opacity="0.91"/>
<path d="M152.0,21.25V24.30" stroke="#0c28cc" stroke-width="0.45" opacity="0.65"/>
<path d="M121.3,73.76V75.28" stroke="#0c28cc" stroke-width="0.45" opacity="0.82"/>
<path d="M144.7,25.55V27.48" stroke="#0c28cc" stroke-width="0.45" opacity="0.63"/>
<path d="M120.8,60.94V64.28" stroke="#0c28cc" stroke-width="0.45" opacity="0.72"/>
<path d="M139.4,15.38V18.34" stroke="#0c28cc" stroke-width="0.45" opacity="0.66"/>
<path d="M134.8,33.30V37.20" stroke="#0c28cc" stroke-width="0.45" opacity="0.84"/>
<path d="M118.4,55.64V58.02" stroke="#0c28cc" stroke-width="0.45" opacity="0.93"/>
<path d="M124.2,42.59V46.21" stroke="#0c28cc" stroke-width="0.45" opacity="0.73"/>
<path d="M119.8,47.55V51.02" stroke="#0c28cc" stroke-width="0.45" opacity="0.73"/>
<path d="M139.2,7.00V12.00" stroke="#0c28cc" stroke-width="0.45" opacity="0.80"/>
<path d="M137.3,12.10V17.00" stroke="#0c28cc" stroke-width="0.45" opacity="0.80"/>
<path d="M135.3,17.10V22.00" stroke="#0c28cc" stroke-width="0.45" opacity="0.80"/>
<path d="M135.0,22.00V23.40" stroke="#0c28cc" stroke-width="0.45" opacity="0.80"/>
<path d="M139.5,23.50V27.00" stroke="#0c28cc" stroke-width="0.45" opacity="0.80"/>
<path d="M136.0,27.00V28.00" stroke="#0c28cc" stroke-width="0.45" opacity="0.80"/>
<path d="M132.0,28.00V33.00" stroke="#0c28cc" stroke-width="0.45" opacity="0.80"/>
<path d="M132.5,33.00V33.60" stroke="#0c28cc" stroke-width="0.45" opacity="0.80"/>
<path d="M132.0,33.60V37.00" stroke="#0c28cc" stroke-width="0.45" opacity="0.80"/>
<path d="M127.0,37.00V38.00" stroke="#0c28cc" stroke-width="0.45" opacity="0.80"/>
<path d="M122.5,38.00V40.50" stroke="#0c28cc" stroke-width="0.45" opacity="0.80"/>
<path d="M119.1,40.50V55.00" stroke="#0c28cc" stroke-width="0.45" opacity="0.80"/>
<path d="M117.9,55.00V68.00" stroke="#0c28cc" stroke-width="0.45" opacity="0.80"/>
<path d="M115.8,68.00V70.00" stroke="#0c28cc" stroke-width="0.45" opacity="0.80"/>
<path d="M112.0,70.00V72.00" stroke="#0c28cc" stroke-width="0.45" opacity="0.80"/>
<path d="M107.5,72.00V74.00" stroke="#0c28cc" stroke-width="0.45" opacity="0.80"/>
<path d="M103.5,74.00V76.00" stroke="#0c28cc" stroke-width="0.45" opacity="0.80"/>
<path d="M100.5,76.00V78.00" stroke="#0c28cc" stroke-width="0.45" opacity="0.80"/>
<path d="M136.0,20.80H154.5" stroke="#ff1744" stroke-width="0.8" opacity="1.00"/>
<path d="M117.5,22.60H137.0" stroke="#0c28cc" stroke-width="0.5" opacity="0.90"/>
<path d="M117.5,22.60V70.00" stroke="#0c28cc" stroke-width="0.5" opacity="0.85"/>
<path d="M117.5,27.60H138.0" stroke="#0c28cc" stroke-width="0.45" opacity="0.75"/>
<path d="M117.5,33.30H131.0" stroke="#0c28cc" stroke-width="0.45" opacity="0.75"/>
<path d="M117.5,37.60H129.0" stroke="#0c28cc" stroke-width="0.45" opacity="0.75"/>
<path d="M117.5,40.20H121.0" stroke="#0c28cc" stroke-width="0.45" opacity="0.75"/>
<rect x="104" y="73.4" width="19" height="3.2" fill="#0c28cc" stroke="none" opacity="0.85"/>
<path d="M92.0,78.30H141.0" stroke="#0c28cc" stroke-width="0.6" opacity="1.00"/>
<path d="M92.0,78.30H95.0" stroke="#0c28cc" stroke-width="0.45" opacity="0.85"/>
<path d="M95.0,78.30V76.80" stroke="#0c28cc" stroke-width="0.45" opacity="0.85"/>
<path d="M95.0,76.80H98.0" stroke="#0c28cc" stroke-width="0.45" opacity="0.85"/>
<path d="M98.0,76.80V75.40" stroke="#0c28cc" stroke-width="0.45" opacity="0.85"/>
<path d="M98.0,75.40H101.0" stroke="#0c28cc" stroke-width="0.45" opacity="0.85"/>
<path d="M101.0,75.40V74.00" stroke="#0c28cc" stroke-width="0.45" opacity="0.85"/>
<path d="M101.0,74.00H105.0" stroke="#0c28cc" stroke-width="0.45" opacity="0.85"/>
<path d="M105.0,74.00V72.40" stroke="#0c28cc" stroke-width="0.45" opacity="0.85"/>
<path d="M105.0,72.40H109.0" stroke="#0c28cc" stroke-width="0.45" opacity="0.85"/>
<path d="M109.0,72.40V70.80" stroke="#0c28cc" stroke-width="0.45" opacity="0.85"/>
<path d="M109.0,70.80H113.0" stroke="#0c28cc" stroke-width="0.45" opacity="0.85"/>
<path d="M113.0,70.80V69.40" stroke="#0c28cc" stroke-width="0.45" opacity="0.85"/>
<path d="M113.0,69.40H117.5" stroke="#0c28cc" stroke-width="0.45" opacity="0.85"/>
<path d="M117.5,69.40V68.00" stroke="#0c28cc" stroke-width="0.45" opacity="0.85"/>
<path d="M141.0,78.40H153.0" stroke="#777777" stroke-width="0.5" opacity="0.90"/>
<path d="M138.0,59.00H149.5" stroke="#ff1744" stroke-width="0.6" opacity="0.90"/>
<path d="M111.0,74.00H118.0" stroke="#ff1744" stroke-width="0.6" opacity="0.90"/>
<path d="M118.0,76.00H127.0" stroke="#ff1744" stroke-width="0.6" opacity="0.90"/>
<path d="M146.0,62.00H166.0" stroke="#7d8fee" stroke-width="0.5" opacity="0.80"/>
<path d="M91.9,78.00V133.00" stroke="#777777" stroke-width="0.6" opacity="0.90"/>
<path d="M12.6,166.00H17.0" stroke="#777777" stroke-width="0.5" opacity="0.90"/>
<path d="M17.0,166.00V165.60" stroke="#777777" stroke-width="0.5" opacity="0.90"/>
<path d="M17.0,165.60H21.0" stroke="#777777" stroke-width="0.5" opacity="0.90"/>
<path d="M21.0,165.60V164.80" stroke="#777777" stroke-width="0.5" opacity="0.90"/>
<path d="M21.0,164.80H25.0" stroke="#777777" stroke-width="0.5" opacity="0.90"/>
<path d="M25.0,164.80V163.20" stroke="#777777" stroke-width="0.5" opacity="0.90"/>
<path d="M25.0,163.20H27.0" stroke="#777777" stroke-width="0.5" opacity="0.90"/>
<path d="M27.0,163.20V160.00" stroke="#777777" stroke-width="0.5" opacity="0.90"/>
<path d="M27.0,160.00H29.0" stroke="#777777" stroke-width="0.5" opacity="0.90"/>
<path d="M29.0,160.00V152.00" stroke="#777777" stroke-width="0.5" opacity="0.90"/>
<path d="M29.0,152.00H30.5" stroke="#777777" stroke-width="0.5" opacity="0.90"/>
<path d="M30.5,152.00V142.60" stroke="#777777" stroke-width="0.5" opacity="0.90"/>
<path d="M30.5,142.60H38.0" stroke="#777777" stroke-width="0.5" opacity="0.90"/>
<path d="M38.0,142.60V142.20" stroke="#777777" stroke-width="0.5" opacity="0.90"/>
<path d="M38.0,142.20H45.0" stroke="#777777" stroke-width="0.5" opacity="0.90"/>
<path d="M45.0,142.20V141.60" stroke="#777777" stroke-width="0.5" opacity="0.90"/>
<path d="M45.0,141.60H52.0" stroke="#777777" stroke-width="0.5" opacity="0.90"/>
<path d="M52.0,141.60V140.60" stroke="#777777" stroke-width="0.5" opacity="0.90"/>
<path d="M52.0,140.60H58.0" stroke="#777777" stroke-width="0.5" opacity="0.90"/>
<path d="M58.0,140.60V139.60" stroke="#777777" stroke-width="0.5" opacity="0.90"/>
<path d="M58.0,139.60H64.0" stroke="#777777" stroke-width="0.5" opacity="0.90"/>
<path d="M64.0,139.60V138.80" stroke="#777777" stroke-width="0.5" opacity="0.90"/>
<path d="M64.0,138.80H70.0" stroke="#777777" stroke-width="0.5" opacity="0.90"/>
<path d="M70.0,138.80V137.60" stroke="#777777" stroke-width="0.5" opacity="0.90"/>
<path d="M70.0,137.60H76.0" stroke="#777777" stroke-width="0.5" opacity="0.90"/>
<path d="M76.0,137.60V136.60" stroke="#777777" stroke-width="0.5" opacity="0.90"/>
<path d="M76.0,136.60H82.0" stroke="#777777" stroke-width="0.5" opacity="0.90"/>
<path d="M82.0,136.60V135.40" stroke="#777777" stroke-width="0.5" opacity="0.90"/>
<path d="M82.0,135.40H87.0" stroke="#777777" stroke-width="0.5" opacity="0.90"/>
<path d="M87.0,135.40V134.00" stroke="#777777" stroke-width="0.5" opacity="0.90"/>
<path d="M87.0,134.00H92.0" stroke="#777777" stroke-width="0.5" opacity="0.90"/>
<path d="M92.0,134.00V133.00" stroke="#777777" stroke-width="0.5" opacity="0.90"/>
<path d="M92.0,112.00H95.0" stroke="#777777" stroke-width="0.5" opacity="0.90"/>
<path d="M95.0,112.00V110.50" stroke="#777777" stroke-width="0.5" opacity="0.90"/>
<path d="M95.0,110.50H98.0" stroke="#777777" stroke-width="0.5" opacity="0.90"/>
<path d="M98.0,110.50V109.00" stroke="#777777" stroke-width="0.5" opacity="0.90"/>
<path d="M98.0,109.00H101.0" stroke="#777777" stroke-width="0.5" opacity="0.90"/>
<path d="M101.0,109.00V107.50" stroke="#777777" stroke-width="0.5" opacity="0.90"/>
<path d="M101.0,107.50H104.0" stroke="#777777" stroke-width="0.5" opacity="0.90"/>
<path d="M104.0,107.50V106.00" stroke="#777777" stroke-width="0.5" opacity="0.90"/>
<path d="M104.0,106.00H107.0" stroke="#777777" stroke-width="0.5" opacity="0.90"/>
<path d="M107.0,106.00V104.50" stroke="#777777" stroke-width="0.5" opacity="0.90"/>
<path d="M107.0,104.50H110.0" stroke="#777777" stroke-width="0.5" opacity="0.90"/>
<path d="M110.0,104.50V103.00" stroke="#777777" stroke-width="0.5" opacity="0.90"/>
<path d="M110.0,103.00H113.0" stroke="#777777" stroke-width="0.5" opacity="0.90"/>
<path d="M113.0,103.00V101.00" stroke="#777777" stroke-width="0.5" opacity="0.90"/>
<path d="M113.0,101.00H116.0" stroke="#777777" stroke-width="0.5" opacity="0.90"/>
<path d="M116.0,101.00V99.00" stroke="#777777" stroke-width="0.5" opacity="0.90"/>
<path d="M116.0,99.00H119.0" stroke="#777777" stroke-width="0.5" opacity="0.90"/>
<path d="M119.0,99.00V97.00" stroke="#777777" stroke-width="0.5" opacity="0.90"/>
<path d="M119.0,97.00H121.0" stroke="#777777" stroke-width="0.5" opacity="0.90"/>
<path d="M121.0,97.00V95.00" stroke="#777777" stroke-width="0.5" opacity="0.90"/>
<path d="M121.0,95.00H123.0" stroke="#777777" stroke-width="0.5" opacity="0.90"/>
<path d="M123.0,95.00V93.00" stroke="#777777" stroke-width="0.5" opacity="0.90"/>
<path d="M123.0,93.00H127.0" stroke="#777777" stroke-width="0.5" opacity="0.90"/>
<path d="M127.0,93.00V92.00" stroke="#777777" stroke-width="0.5" opacity="0.90"/>
<path d="M127.0,92.00H131.0" stroke="#777777" stroke-width="0.5" opacity="0.90"/>
<path d="M131.0,92.00V90.50" stroke="#777777" stroke-width="0.5" opacity="0.90"/>
<path d="M131.0,90.50H135.0" stroke="#777777" stroke-width="0.5" opacity="0.90"/>
<path d="M135.0,90.50V88.50" stroke="#777777" stroke-width="0.5" opacity="0.90"/>
<path d="M135.0,88.50H140.0" stroke="#777777" stroke-width="0.5" opacity="0.90"/>
<path d="M140.0,88.50V86.50" stroke="#777777" stroke-width="0.5" opacity="0.90"/>
<path d="M140.0,86.50H144.0" stroke="#777777" stroke-width="0.5" opacity="0.90"/>
<path d="M144.0,86.50V85.00" stroke="#777777" stroke-width="0.5" opacity="0.90"/>
<path d="M144.0,85.00H148.0" stroke="#777777" stroke-width="0.5" opacity="0.90"/>
<path d="M148.0,85.00V83.50" stroke="#777777" stroke-width="0.5" opacity="0.90"/>
<path d="M148.0,83.50H152.0" stroke="#777777" stroke-width="0.5" opacity="0.90"/>
<path d="M152.0,83.50V81.50" stroke="#777777" stroke-width="0.5" opacity="0.90"/>
<path d="M152.0,81.50H156.0" stroke="#777777" stroke-width="0.5" opacity="0.90"/>
<path d="M156.0,81.50V80.00" stroke="#777777" stroke-width="0.5" opacity="0.90"/>
<path d="M150.4,81.20H166.6" stroke="#5a5a5a" stroke-width="0.5" opacity="0.92"/>
<path d="M147.8,82.22H163.2" stroke="#5a5a5a" stroke-width="0.5" opacity="0.76"/>
<path d="M145.9,82.91H162.1" stroke="#5a5a5a" stroke-width="0.5" opacity="0.84"/>
<path d="M143.5,83.94H159.0" stroke="#5a5a5a" stroke-width="0.5" opacity="0.95"/>
<path d="M142.4,85.02H155.2" stroke="#5a5a5a" stroke-width="0.5" opacity="0.77"/>
<path d="M140.3,85.91H154.1" stroke="#5a5a5a" stroke-width="0.5" opacity="0.81"/>
<path d="M139.1,86.63H150.5" stroke="#5a5a5a" stroke-width="0.5" opacity="0.79"/>
<path d="M138.4,87.37H157.9" stroke="#5a5a5a" stroke-width="0.5" opacity="0.87"/>
<path d="M153.9,79.20H165.3" stroke="#0c28cc" stroke-width="0.6" opacity="0.93"/>
<path d="M154.3,79.65H166.4" stroke="#0c28cc" stroke-width="0.6" opacity="0.92"/>
<path d="M154.2,80.06H166.0" stroke="#0c28cc" stroke-width="0.6" opacity="0.93"/>
<path d="M150.4,88.80H167.0" stroke="#0c28cc" stroke-width="0.6" opacity="0.92"/>
<path d="M149.7,89.10H164.8" stroke="#0c28cc" stroke-width="0.6" opacity="0.98"/>
<path d="M149.3,89.54H165.5" stroke="#0c28cc" stroke-width="0.6" opacity="0.99"/>
<path d="M148.8,90.00H166.9" stroke="#0c28cc" stroke-width="0.6" opacity="0.94"/>
<path d="M148.0,90.48H165.9" stroke="#0c28cc" stroke-width="0.6" opacity="0.94"/>
<path d="M147.3,90.92H164.0" stroke="#0c28cc" stroke-width="0.6" opacity="0.99"/>
<path d="M135.5,90.50H150.6" stroke="#7d8fee" stroke-width="0.5" opacity="0.98"/>
<path d="M135.0,90.98H151.2" stroke="#7d8fee" stroke-width="0.5" opacity="0.97"/>
<path d="M134.1,91.73H151.6" stroke="#7d8fee" stroke-width="0.5" opacity="0.85"/>
<path d="M134.5,92.31H150.3" stroke="#7d8fee" stroke-width="0.5" opacity="0.84"/>
<path d="M132.3,95.30H161.1" stroke="#ff1744" stroke-width="0.65" opacity="0.80"/>
<path d="M131.3,95.80H159.3" stroke="#ff1744" stroke-width="0.65" opacity="0.94"/>
<path d="M130.7,96.21H159.6" stroke="#ff1744" stroke-width="0.65" opacity="0.83"/>
<path d="M129.8,96.68H157.9" stroke="#ff1744" stroke-width="0.65" opacity="0.93"/>
<path d="M129.3,97.06H157.6" stroke="#ff1744" stroke-width="0.65" opacity="0.96"/>
<path d="M128.6,97.42H158.2" stroke="#ff1744" stroke-width="0.65" opacity="0.81"/>
<path d="M128.4,97.76H159.3" stroke="#ff1744" stroke-width="0.65" opacity="0.82"/>
<path d="M128.3,98.10H159.8" stroke="#ff1744" stroke-width="0.65" opacity="0.83"/>
<path d="M116.0,95.00H131.0" stroke="#ff1744" stroke-width="0.5" opacity="0.70"/>
<path d="M116.0,97.40H128.0" stroke="#ff8fa8" stroke-width="0.5" opacity="0.90"/>
<path d="M137.5,99.00H158.6" stroke="#ffd000" stroke-width="0.65" opacity="0.95"/>
<path d="M137.2,99.42H162.4" stroke="#ffd000" stroke-width="0.65" opacity="0.94"/>
<path d="M136.5,99.79H159.5" stroke="#ffd000" stroke-width="0.65" opacity="1.00"/>
<path d="M136.6,100.30H160.9" stroke="#ffd000" stroke-width="0.65" opacity="0.92"/>
<path d="M135.4,100.64H163.9" stroke="#ffd000" stroke-width="0.65" opacity="0.94"/>
<path d="M134.8,101.02H163.5" stroke="#ffd000" stroke-width="0.65" opacity="0.98"/>
<path d="M135.4,101.46H164.8" stroke="#ffd000" stroke-width="0.65" opacity="0.91"/>
<path d="M120.3,98.80H153.9" stroke="#ffe98a" stroke-width="0.65" opacity="0.93"/>
<path d="M119.9,99.24H147.6" stroke="#ffe98a" stroke-width="0.65" opacity="0.82"/>
<path d="M119.5,99.59H154.4" stroke="#ffe98a" stroke-width="0.65" opacity="0.83"/>
<path d="M118.5,100.06H150.4" stroke="#ffe98a" stroke-width="0.65" opacity="0.83"/>
<path d="M117.6,100.44H146.6" stroke="#ffe98a" stroke-width="0.65" opacity="0.95"/>
<path d="M116.1,101.00H151.4" stroke="#ffe98a" stroke-width="0.65" opacity="0.86"/>
<path d="M115.3,101.48H151.5" stroke="#ffe98a" stroke-width="0.65" opacity="0.91"/>
<path d="M114.1,101.97H148.5" stroke="#ffe98a" stroke-width="0.65" opacity="0.84"/>
<path d="M108.0,102.70H152.0" stroke="#7d8fee" stroke-width="1.1" opacity="0.95"/>
<path d="M109.0,103.70H150.0" stroke="#7d8fee" stroke-width="0.8" opacity="0.80"/>
<path d="M108.0,104.60H130.0" stroke="#19c8ff" stroke-width="0.9" opacity="0.90"/>
<path d="M104.0,106.30H146.0" stroke="#ff8fa8" stroke-width="1.1" opacity="0.90"/>
<path d="M143.0,106.80H160.0" stroke="#ff1744" stroke-width="1.0" opacity="1.00"/>
<path d="M103.0,108.10H141.0" stroke="#ffe98a" stroke-width="1.2" opacity="0.95"/>
<path d="M125.0,108.20H132.0" stroke="#ffd000" stroke-width="0.8" opacity="0.90"/>
<path d="M100.5,109.80H144.0" stroke="#ff1744" stroke-width="1.2" opacity="0.95"/>
<path d="M101.0,110.70H135.0" stroke="#ff8fa8" stroke-width="0.6" opacity="0.80"/>
<path d="M99.2,122.70H163.0" stroke="#169c6b" stroke-width="0.7" opacity="0.95"/>
<path d="M109.6,120.20V124.00" stroke="#169c6b" stroke-width="0.7" opacity="0.90"/>
<path d="M109.6,120.20H121.3" stroke="#169c6b" stroke-width="0.7" opacity="0.90"/>
<path d="M109.6,124.00H150.0" stroke="#169c6b" stroke-width="0.6" opacity="0.85"/>
<path d="M121.3,117.50V123.30" stroke="#169c6b" stroke-width="0.7" opacity="0.90"/>
<path d="M121.3,117.50H137.0" stroke="#169c6b" stroke-width="0.7" opacity="0.90"/>
<path d="M121.3,123.40H160.0" stroke="#169c6b" stroke-width="0.6" opacity="0.90"/>
<path d="M130.0,118.80V122.70" stroke="#169c6b" stroke-width="0.6" opacity="0.90"/>
<path d="M130.0,118.80H157.0" stroke="#169c6b" stroke-width="0.6" opacity="0.90"/>
<path d="M137.0,116.40V119.50" stroke="#169c6b" stroke-width="0.6" opacity="0.90"/>
<path d="M137.0,116.40H160.0" stroke="#169c6b" stroke-width="0.7" opacity="0.95"/>
<path d="M146.0,114.50V117.50" stroke="#169c6b" stroke-width="0.6" opacity="0.90"/>
<path d="M146.0,114.50H156.0" stroke="#169c6b" stroke-width="0.7" opacity="0.95"/>
<path d="M155.0,113.00H163.0" stroke="#169c6b" stroke-width="0.7" opacity="0.95"/>
<rect x="130" y="120.3" width="25" height="1.9" fill="#169c6b" stroke="none" opacity="0.95"/>
<rect x="137" y="117.4" width="18" height="1.0" fill="#169c6b" stroke="none" opacity="0.8"/>
<path d="M134.4,119.30H157.4" stroke="#169c6b" stroke-width="0.5" opacity="0.95"/>
<path d="M134.2,119.71H156.8" stroke="#169c6b" stroke-width="0.5" opacity="0.97"/>
<path d="M132.8,120.34H153.9" stroke="#169c6b" stroke-width="0.5" opacity="0.97"/>
<path d="M131.6,121.04H156.8" stroke="#169c6b" stroke-width="0.5" opacity="0.74"/>
<path d="M132.0,121.47H158.9" stroke="#169c6b" stroke-width="0.5" opacity="0.66"/>
<path d="M130.0,122.00H160.8" stroke="#169c6b" stroke-width="0.5" opacity="0.99"/>
<path d="M130.1,122.70H159.3" stroke="#169c6b" stroke-width="0.5" opacity="0.77"/>
<path d="M127.9,123.31H160.7" stroke="#169c6b" stroke-width="0.5" opacity="0.85"/>
<path d="M149.3,114.80H156.4" stroke="#169c6b" stroke-width="0.5" opacity="0.56"/>
<path d="M147.7,115.29H156.3" stroke="#169c6b" stroke-width="0.5" opacity="0.88"/>
<path d="M144.8,116.03H159.9" stroke="#169c6b" stroke-width="0.5" opacity="0.60"/>
<path d="M143.7,116.53H157.1" stroke="#169c6b" stroke-width="0.5" opacity="0.72"/>
<path d="M141.6,117.27H158.4" stroke="#169c6b" stroke-width="0.5" opacity="0.82"/>
<path d="M140.8,117.91H160.8" stroke="#169c6b" stroke-width="0.5" opacity="0.73"/>
<ellipse cx="156.5" cy="113.2" rx="1.7" ry="1.4" fill="#169c6b" stroke="none"/>
<path d="M99.0,125.30H160.0" stroke="#f7a6ee" stroke-width="0.7" opacity="0.90"/>
<path d="M128.5,126.80H151.7" stroke="#ff1744" stroke-width="0.6" opacity="0.75"/>
<path d="M123.4,127.32H152.5" stroke="#ff1744" stroke-width="0.6" opacity="1.00"/>
<path d="M119.8,127.72H151.0" stroke="#ff1744" stroke-width="0.6" opacity="0.95"/>
<path d="M116.2,128.21H149.6" stroke="#ff1744" stroke-width="0.6" opacity="0.99"/>
<path d="M112.6,128.56H150.8" stroke="#ff1744" stroke-width="0.6" opacity="0.77"/>
<path d="M109.8,128.95H150.5" stroke="#ff8fa8" stroke-width="0.6" opacity="0.81"/>
<path d="M106.0,129.43H151.2" stroke="#ff1744" stroke-width="0.6" opacity="0.98"/>
<path d="M102.9,129.83H149.4" stroke="#ff1744" stroke-width="0.6" opacity="0.77"/>
<path d="M99.5,130.35H153.6" stroke="#ff1744" stroke-width="0.6" opacity="0.88"/>
<path d="M97.2,130.79H146.7" stroke="#ff1744" stroke-width="0.6" opacity="0.72"/>
<path d="M96.0,131.21H148.1" stroke="#ff8fa8" stroke-width="0.6" opacity="0.77"/>
<path d="M95.6,131.53H150.8" stroke="#ff1744" stroke-width="0.6" opacity="0.71"/>
<path d="M94.5,131.96H152.1" stroke="#ff8fa8" stroke-width="0.6" opacity="0.72"/>
<path d="M111.5,129.20H139.5" stroke="#ff1744" stroke-width="0.7" opacity="0.98"/>
<path d="M110.0,129.58H138.6" stroke="#ff1744" stroke-width="0.7" opacity="1.00"/>
<path d="M108.0,130.04H138.3" stroke="#ff1744" stroke-width="0.7" opacity="1.00"/>
<path d="M104.5,130.61H138.6" stroke="#ff1744" stroke-width="0.7" opacity="1.00"/>
<path d="M102.9,131.04H139.2" stroke="#ff1744" stroke-width="0.7" opacity="0.96"/>
<path d="M101.2,131.48H141.2" stroke="#ff1744" stroke-width="0.7" opacity="0.96"/>
<path d="M100.7,131.84H141.6" stroke="#ff1744" stroke-width="0.7" opacity="0.95"/>
<path d="M91.0,133.60H149.0" stroke="#7d8fee" stroke-width="1.1" opacity="0.95"/>
<path d="M91.0,133.40H97.0" stroke="#0c28cc" stroke-width="0.8" opacity="0.80"/>
<path d="M89.5,126.30H95.0" stroke="#444" stroke-width="0.6" opacity="0.80"/>
<path d="M31.0,142.80H112.0" stroke="#ff1744" stroke-width="0.7" opacity="0.90"/>
<path d="M80.0,142.00H143.0" stroke="#ff8fa8" stroke-width="0.7" opacity="0.90"/>
<path d="M100.0,141.40H143.0" stroke="#ff1744" stroke-width="0.5" opacity="0.60"/>
<path d="M43.0,142.00H48.0" stroke="#0c28cc" stroke-width="0.7" opacity="0.80"/>
<path d="M62.0,138.60H66.0" stroke="#ffae00" stroke-width="0.8" opacity="0.90"/>
<path d="M29.8,150.00V165.50" stroke="#ffe98a" stroke-width="2.0" opacity="0.85"/>
<path d="M30.4,143.00V152.00" stroke="#ffe98a" stroke-width="0.8" opacity="0.80"/>
<rect x="31" y="159" width="72" height="6.4" fill="#fff0b8" stroke="none" opacity="0.4"/>
<path d="M136.0,143.70H151.9" stroke="#ffd000" stroke-width="0.8047345080818289" opacity="0.98"/>
<path d="M133.9,144.43H157.5" stroke="#ffd000" stroke-width="0.5939326389257891" opacity="0.98"/>
<path d="M131.8,145.28H145.6" stroke="#ffd000" stroke-width="0.6463830534730284" opacity="0.94"/>
<path d="M136.9,145.63H149.3" stroke="#ffe98a" stroke-width="0.5" opacity="0.90"/>
<path d="M129.2,146.04H145.8" stroke="#ffd000" stroke-width="0.5776408458087251" opacity="0.95"/>
<path d="M136.7,146.39H151.5" stroke="#ffe98a" stroke-width="0.5" opacity="0.90"/>
<path d="M127.1,146.96H142.0" stroke="#ffd000" stroke-width="0.8395407982105392" opacity="0.95"/>
<path d="M132.0,147.31H146.7" stroke="#ffe98a" stroke-width="0.5" opacity="0.90"/>
<path d="M126.2,147.77H153.5" stroke="#ffd000" stroke-width="0.6965379285776149" opacity="0.86"/>
<path d="M131.0,148.12H155.7" stroke="#ffe98a" stroke-width="0.5" opacity="0.90"/>
<path d="M123.2,148.53H143.7" stroke="#ffd000" stroke-width="0.6345281634394041" opacity="0.86"/>
<path d="M119.2,149.41H132.5" stroke="#ffd000" stroke-width="0.6772212791424121" opacity="0.99"/>
<path d="M121.2,150.04H136.2" stroke="#ffd000" stroke-width="0.5998995199150824" opacity="1.00"/>
<path d="M128.3,150.39H136.9" stroke="#ffe98a" stroke-width="0.5" opacity="0.90"/>
<path d="M118.0,150.88H140.7" stroke="#ffd000" stroke-width="0.5999087356550431" opacity="0.87"/>
<path d="M115.1,151.69H135.8" stroke="#ffd000" stroke-width="0.6269156545380515" opacity="0.99"/>
<path d="M112.0,152.53H138.6" stroke="#ffd000" stroke-width="0.7474189143537358" opacity="0.92"/>
<path d="M108.9,153.45H136.8" stroke="#ffd000" stroke-width="0.6440556561241688" opacity="0.93"/>
<path d="M108.2,154.30H129.5" stroke="#ffd000" stroke-width="0.740156320528622" opacity="0.85"/>
<path d="M104.9,154.94H130.4" stroke="#ffd000" stroke-width="0.7451797978109325" opacity="0.95"/>
<path d="M103.8,155.68H129.2" stroke="#ffd000" stroke-width="0.7205998669466135" opacity="0.86"/>
<path d="M109.6,156.03H123.9" stroke="#ffe98a" stroke-width="0.5" opacity="0.90"/>
<path d="M103.9,156.33H122.2" stroke="#ffd000" stroke-width="0.5650838719709774" opacity="0.89"/>
<path d="M109.4,156.68H120.9" stroke="#ffe98a" stroke-width="0.5" opacity="0.90"/>
<path d="M101.5,156.94H122.1" stroke="#ffd000" stroke-width="0.5807024719406518" opacity="0.90"/>
<path d="M104.0,157.29H126.4" stroke="#ffe98a" stroke-width="0.5" opacity="0.90"/>
<path d="M99.2,157.59H120.8" stroke="#ffd000" stroke-width="0.7008834846522287" opacity="0.99"/>
<path d="M96.4,158.44H112.3" stroke="#ffd000" stroke-width="0.7503831213350017" opacity="0.87"/>
<path d="M102.8,158.79H109.5" stroke="#ffe98a" stroke-width="0.5" opacity="0.90"/>
<path d="M105.0,154.00H152.0" stroke="#ffd000" stroke-width="0.6" opacity="0.90"/>
<path d="M128.0,152.30H146.0" stroke="#ffd000" stroke-width="0.6" opacity="0.90"/>
<path d="M130.0,148.50H153.0" stroke="#ffd000" stroke-width="0.6" opacity="0.90"/>
<path d="M137.0,144.60H157.0" stroke="#ffd000" stroke-width="0.6" opacity="0.90"/>
<path d="M134.0,146.10H155.0" stroke="#ffd000" stroke-width="0.6" opacity="0.90"/>
<rect x="137.5" y="143.5" width="9" height="2.2" fill="#ffd000" stroke="none" opacity="0.9"/>
<path d="M142.0,145.20H145.0" stroke="#8a8a6a" stroke-width="0.6" opacity="0.80"/>
<path d="M80.0,160.20H88.0" stroke="#ffd000" stroke-width="0.5" opacity="0.90"/>
<path d="M88.0,160.20V159.40" stroke="#ffd000" stroke-width="0.5" opacity="0.90"/>
<path d="M88.0,159.40H95.0" stroke="#ffd000" stroke-width="0.5" opacity="0.90"/>
<path d="M95.0,159.40V158.40" stroke="#ffd000" stroke-width="0.5" opacity="0.90"/>
<path d="M95.0,158.40H100.0" stroke="#ffd000" stroke-width="0.5" opacity="0.90"/>
<path d="M100.0,158.40V157.20" stroke="#ffd000" stroke-width="0.5" opacity="0.90"/>
<path d="M100.0,157.20H106.0" stroke="#ffd000" stroke-width="0.5" opacity="0.90"/>
<path d="M106.0,157.20V155.40" stroke="#ffd000" stroke-width="0.5" opacity="0.90"/>
<path d="M106.0,155.40H112.0" stroke="#ffd000" stroke-width="0.5" opacity="0.90"/>
<path d="M112.0,155.40V153.40" stroke="#ffd000" stroke-width="0.5" opacity="0.90"/>
<path d="M112.0,153.40H118.0" stroke="#ffd000" stroke-width="0.5" opacity="0.90"/>
<path d="M118.0,153.40V151.20" stroke="#ffd000" stroke-width="0.5" opacity="0.90"/>
<path d="M118.0,151.20H124.0" stroke="#ffd000" stroke-width="0.5" opacity="0.90"/>
<path d="M124.0,151.20V149.00" stroke="#ffd000" stroke-width="0.5" opacity="0.90"/>
<path d="M124.0,149.00H130.0" stroke="#ffd000" stroke-width="0.5" opacity="0.90"/>
<path d="M130.0,149.00V146.80" stroke="#ffd000" stroke-width="0.5" opacity="0.90"/>
<path d="M130.0,146.80H135.0" stroke="#ffd000" stroke-width="0.5" opacity="0.90"/>
<path d="M135.0,146.80V144.80" stroke="#ffd000" stroke-width="0.5" opacity="0.90"/>
<path d="M135.0,144.80H138.0" stroke="#ffd000" stroke-width="0.5" opacity="0.90"/>
<path d="M138.0,144.80V143.80" stroke="#ffd000" stroke-width="0.5" opacity="0.90"/>
<path d="M31.0,159.50H110.0" stroke="#ffd83a" stroke-width="0.7" opacity="0.95"/>
<path d="M49.5,160.80H62.5" stroke="#ffae00" stroke-width="1.3" opacity="0.95"/>
<path d="M31.0,162.00H110.0" stroke="#ffe98a" stroke-width="0.7" opacity="0.95"/>
<path d="M66.6,163.50H88.0" stroke="#ffae00" stroke-width="1.3" opacity="0.95"/>
<path d="M88.0,163.50H110.0" stroke="#ffd000" stroke-width="0.8" opacity="0.90"/>
<path d="M31.0,164.90H110.0" stroke="#ffe0a0" stroke-width="0.8" opacity="0.90"/>
<path d="M18.0,166.50H55.0" stroke="#ff1744" stroke-width="0.9" opacity="0.95"/>
<path d="M55.0,166.50H138.0" stroke="#ff1744" stroke-width="0.6" opacity="0.80"/>
<path d="M24.0,167.50H60.0" stroke="#ff8fa8" stroke-width="0.5" opacity="0.70"/>
<path d="M88.0,163.20H121.0" stroke="#ff1744" stroke-width="0.6" opacity="0.90"/>
<path d="M100.0,161.40H117.0" stroke="#ff1744" stroke-width="0.6" opacity="0.85"/>
<path d="M13.0,166.00H22.0" stroke="#777777" stroke-width="0.6" opacity="0.70"/>
</g>
<path d="M8.5,176.9H178.3" stroke="#8c8c8c" stroke-width="0.85"/>
<g font-size="7.2" fill="#1a1a1a" stroke="#1a1a1a" stroke-width="0.15" text-anchor="middle">
<text transform="translate(23.3,183.7) scale(0.88,1)">1970</text>
<text transform="translate(51.5,183.7) scale(0.88,1)">1980</text>
<text transform="translate(79.7,183.7) scale(0.88,1)">1990</text>
<text transform="translate(107.9,183.7) scale(0.88,1)">2000</text>
<text transform="translate(136.1,183.7) scale(0.88,1)">2010</text>
<text transform="translate(164.3,183.7) scale(0.88,1)">2020</text>
</g>
<path d="M80.2,169.4H97" stroke="#666" stroke-width="0.7"/>
<text x="88.8" y="175.7" font-size="6.0" fill="#1a1a1a" stroke="#1a1a1a" stroke-width="0.1" text-anchor="middle">6.0</text>
<text x="9.7" y="21" font-size="10.2" font-weight="bold" fill="#111">(a)</text>
<text x="188.8" y="19.8" font-size="10.2" font-weight="bold" fill="#111">(b)</text>
<g font-size="6.75" fill="#1a1a1a" stroke="#1a1a1a" stroke-width="0.18">
<rect x="9.7" y="196.00" width="8.3" height="8" fill="#1a9a6b" stroke="none"/>
<text x="21.6" y="202.45">Brazil</text>
<rect x="9.7" y="206.92" width="8.3" height="8" fill="#19ccff" stroke="none"/>
<text x="21.6" y="213.37">Argentina</text>
<rect x="9.7" y="217.84" width="8.3" height="8" fill="#0a25c8" stroke="none"/>
<text x="21.6" y="224.29">Central and North America</text>
<rect x="9.7" y="228.76" width="8.3" height="8" fill="#ff1040" stroke="none"/>
<text x="21.6" y="235.21">Asia</text>
<rect x="9.7" y="239.68" width="8.3" height="8" fill="#ff8ef4" stroke="none"/>
<text x="21.6" y="246.13">Chile</text>
<rect x="9.7" y="250.60" width="8.3" height="8" fill="#ffc800" stroke="none"/>
<text x="21.6" y="257.05">Europe</text>
<rect x="9.7" y="261.52" width="8.3" height="8" fill="#808080" stroke="none"/>
<text x="21.6" y="267.97">Human seasonal H3</text>
</g>
<path d="M317.30,38.35H321.00M317.30,44.92H321.00M317.30,37.90V45.37M314.80,41.64H317.30M314.80,51.50H340.00M314.80,41.19V51.95M314.40,46.57H314.80M314.40,58.07H321.00M314.40,46.12V58.52M309.40,52.32H314.40M309.40,51.87V70.50M308.50,70.50H310.40M312.30,64.19V69.50M310.40,69.50H312.30M312.30,64.64H340.00M310.40,69.00V78.24M309.90,71.22H321.00M310.40,77.79H330.50M309.90,70.00V77.79M308.50,70.50H308.50M313.60,84.36H321.00M313.60,90.93H330.50M313.60,83.91V91.38M308.50,87.65H313.60M308.50,97.51H321.00M308.50,70.05V97.96M281.30,84.20H308.50M330.30,104.08H330.50M330.30,110.65H330.50M330.30,103.63V111.10M329.90,107.37H330.30M329.90,117.23H330.50M329.90,106.92V117.68M329.60,112.30H329.90M329.60,123.80H330.50M329.60,111.85V124.25M310.90,118.05H329.60M310.90,130.37H311.50M310.90,117.60V130.82M310.20,124.21H310.90M310.20,136.94H311.50M310.20,123.76V137.39M286.50,130.58H310.20M286.50,143.52H321.00M286.50,130.13V143.97M281.30,137.05H286.50M281.30,83.75V137.50M267.20,110.62H281.30M267.20,150.09H321.00M267.20,110.17V150.54M248.50,130.36H267.20M281.30,156.66H283.00M281.30,163.24H292.50M281.30,156.21V163.69M270.50,159.95H281.30M270.50,169.81H292.50M270.50,159.50V170.26M248.50,164.88H270.50M248.50,129.91V165.33M199.70,147.62H248.50M310.80,176.38H311.50M310.80,182.96H311.50M310.80,175.93V183.41M309.60,179.67H310.80M310.80,189.53H311.50M310.80,196.10H311.50M310.80,189.08V196.55M309.60,192.82H310.80M309.60,179.22V193.27M239.70,186.24H309.60M239.70,202.68H283.00M239.70,185.79V203.12M237.20,194.46H239.70M237.20,209.25H311.50M237.20,194.01V209.70M234.60,201.85H237.20M234.60,215.82H254.50M234.60,201.40V216.27M229.60,208.84H234.60M232.00,222.39H283.00M232.00,228.97H302.00M232.00,221.94V229.42M229.60,225.68H232.00M229.60,208.39V226.13M227.20,217.26H229.60M315.50,235.54H330.50M315.50,242.11H340.00M315.50,235.09V242.56M254.40,238.83H315.50M254.40,248.69H254.50M254.40,238.38V249.14M229.80,243.76H254.40M251.30,255.26H254.50M251.30,261.83H254.50M251.30,254.81V262.28M229.80,258.55H251.30M229.80,243.31V259.00M227.20,251.15H229.80M227.20,268.41H330.50M227.20,216.81V268.86M199.70,244.80H227.20M199.70,147.17V245.25M159.70,196.21H199.70M293.50,274.98H330.50M293.50,281.55H302.00M293.50,274.53V282.00M159.70,278.26H293.50M159.70,195.76V278.71M124.60,237.24H159.70M124.60,236.79V266.79" fill="none" stroke="#25b283" stroke-width="1.15"/>
<path d="M316.50,288.12H321.00M316.50,294.70H321.00M316.50,287.67V295.15M311.70,291.41H316.50M311.70,301.27H311.50M311.70,290.96V301.72M124.60,296.34H311.70M124.60,266.79V296.79" fill="none" stroke="#ff80f2" stroke-width="1.15"/>
<path d="M105.6,266.79H124.6" stroke="#2a6b55" stroke-width="0.6"/>
<g font-size="5.24" fill="#151515" stroke="#151515" stroke-width="0.14" filter="url(#soft)">
<text x="325.7" y="40.20">A/swine/Brazil/246-18-200/2018|SC|MT068698|Swine|Brazil|H3|2018</text>
<text x="325.7" y="46.77">A/swine/Brazil/246-18-315/2018|SC|MT068794|Swine|Brazil|H3|2018</text>
<text x="344.7" y="53.35">A/swine/Brazil/079-20-16/2020|SC|MW772847|Swine|Brazil|H3|2020</text>
<text x="325.7" y="59.92">A/swine/Brazil/246-18-25/2018|SC|MT068789|Swine|Brazil|H3|2018</text>
<text x="344.7" y="66.49">A/swine/Brazil/079-20-8/2020|SC|MW772833|Swine|Brazil|H3N2|2020</text>
<text x="325.7" y="73.06">A/swine/Brazil/093-18-1/2018|SC|MT041189|Swine|Brazil|H3N2|2018</text>
<text x="335.2" y="79.64">A/swine/Brazil/072-19-1/2019|SC|MW772595|Swine|Brazil|H3N2|2019</text>
<text x="325.7" y="86.21">A/swine/Brazil/246-18-45/2018|SC|MT041045|Swine|Brazil|H3N2|2018</text>
<text x="335.2" y="92.78">A/swine/Brazil/350-19-70/2019|SC|MW772937|Swine|Brazil|H3N2|2019</text>
<text x="325.7" y="99.36">A/swine/Brazil/094-18/2018|SC|MT041197|Swine|Brazil|H3N2|2018</text>
<text x="335.2" y="105.93">A/swine/Brazil/137-19/2019|PR|MW772890|Swine|Brazil|H3N2|2019</text>
<text x="335.2" y="112.50">A/swine/Brazil/139-19/2019|RS|MW772900|Swine|Brazil|H3N2|2019</text>
<text x="335.2" y="119.08">A/swine/Brazil/147-19/2019|MG|MW772905|Swine|Brazil|H3N2|2019</text>
<text x="335.2" y="125.65">A/swine/Brazil/138-19/2019|MG|MW772895|Swine|Brazil|H3N2|2019</text>
<text x="316.2" y="132.22">A/swine/Brazil/520-17/2017|SC|MT068739|Swine|Brazil|H3N2|2017</text>
<text x="316.2" y="138.79">A/swine/Brazil/360-17/2017|SC|MN973915|Swine|Brazil|H3N2|2017</text>
<text x="325.7" y="145.37">A/swine/Brazil/095-18/2018|PR|MT068690|Swine|Brazil|H3N2|2018</text>
<text x="325.7" y="151.94">A/swine/Brazil/246-18-206/2018|SC|MT041101|Swine|Brazil|H3N2|2018</text>
<text x="287.7" y="158.51">A/swine/Brazil/061-14-2/2014|SC|MH559995|Swine|Brazil|H3N2|2014</text>
<text x="297.2" y="165.09">A/swine/Brazil/068-15/2015|SC|MH559843|Swine|Brazil|H3N2|2015</text>
<text x="297.2" y="171.66">A/swine/Brazil/028-15-8/2015|SC|MH559963|Swine|Brazil|H3N2|2015</text>
<text x="316.2" y="178.23">A/swine/Brazil/091-18-50/2017|MG|MT068686|Swine|Brazil|H3|2017</text>
<text x="316.2" y="184.81">A/swine/Brazil/524-17/2017|RS|MT068764|Swine|Brazil|H3N2|2017</text>
<text x="316.2" y="191.38">A/swine/Brazil/527-17/2017|RS|MN973899|Swine|Brazil|H3N2|2017</text>
<text x="316.2" y="197.95">A/swine/Brazil/091-18-2/2017|MG|MT068674|Swine|Brazil|H3N2|2017</text>
<text x="287.7" y="204.53">A/swine/Brazil/154-14-1/2014|RS|MH559859|Swine|Brazil|H3N2|2014</text>
<text x="316.2" y="211.10">A/swine/Brazil/521-17/2017|RS|MT068745|Swine|Brazil|H3N2|2017</text>
<text x="259.2" y="217.67">A/swine/Brazil/355-11-6/2011|RS|KM507503|Swine|Brazil|H3N2|2011</text>
<text x="287.7" y="224.24">A/swine/Brazil/045-14-3/2014|SC|MT041133|Swine|Brazil|H3N2|2014</text>
<text x="306.7" y="230.82">A/swine/Brazil/161-16-2/2016|MT|MT068659|Swine|Brazil|H3N2|2016</text>
<text x="335.2" y="237.39">A/swine/Brazil/043-19/2019|SC|MW772468|Swine|Brazil|H3N2|2019</text>
<text x="344.7" y="243.96">A/swine/Brazil/076-20-5/2020|SC|MW772828|Swine|Brazil|H3N2|2020</text>
<text x="259.2" y="250.54">A/swine/Brazil/231-11-1/2011|SC|KM507535.2|Swine|Brazil|H3N2|2011</text>
<text x="259.2" y="257.11">A/swine/Brazil/365-11-6/2011|MS|KM507506|Swine|Brazil|H3N2|2011</text>
<text x="259.2" y="263.68">A/swine/Brazil/365-11-7/2011|MS|KM507511|Swine|Brazil|H3N2|2011</text>
<text x="335.2" y="270.26">A/swine/Brazil/148-19/2019|PR|MW772683|Swine|Brazil|H3N2|2019</text>
<text x="335.2" y="276.83">A/swine/Brazil/037-19/2019|SP|MW772770|Swine|Brazil|H3N2|2019</text>
<text x="306.7" y="283.40">A/swine/Brazil/160-16/2016|PR|MT068652|Swine|Brazil|H3N2|2016</text>
<text x="325.7" y="289.97">A/swine/Valparaiso/VN1401_3771/2018|MN054199|Swine|Chile|H3N2|2018</text>
<text x="325.7" y="296.55">A/swine/Valparaiso/VN1401_3773/2018|MN054344|Swine|Chile|H3N2|2018</text>
<text x="316.2" y="303.12">A/swine/Los_Andes/VN1401_3086/2017|MH347124|Swine|Chile|H3N2|2017</text>
</g>
<g font-size="5.2" fill="#151515" stroke="#151515" stroke-width="0.14" filter="url(#soft)">
<text x="227.3" y="146.7">100/100</text>
<text x="169.4" y="195.6">99.8/100</text>
<text x="136" y="236.3">98.8/100</text>
<text x="105.6" y="265.8">77.4/98</text>
<text x="204.3" y="276.9">100/100</text>
<text x="207.6" y="295.0">100/100</text>
</g>
<g fill="none" stroke="#4a4a4a" stroke-width="0.8">
<path d="M514.9,34.6H517.4V169.8H514.9"/>
<path d="M514.9,172.3H517.4V269.9H514.9"/>
<path d="M514.9,271.6H517.4V282.6H514.9"/>
<path d="M514.9,285H517.4V303H514.9"/>
</g>
<g font-size="6.5" fill="#1a1a1a" stroke="#1a1a1a" stroke-width="0.18">
<text x="518.8" y="103.5">1990.5.2</text>
<text x="518.8" y="224.3">1990.5.1</text>
<text x="518.8" y="279.8">1990.5.3</text>
<text x="518.8" y="297">1990.5.4</text>
</g>
</svg>
</body></html>
